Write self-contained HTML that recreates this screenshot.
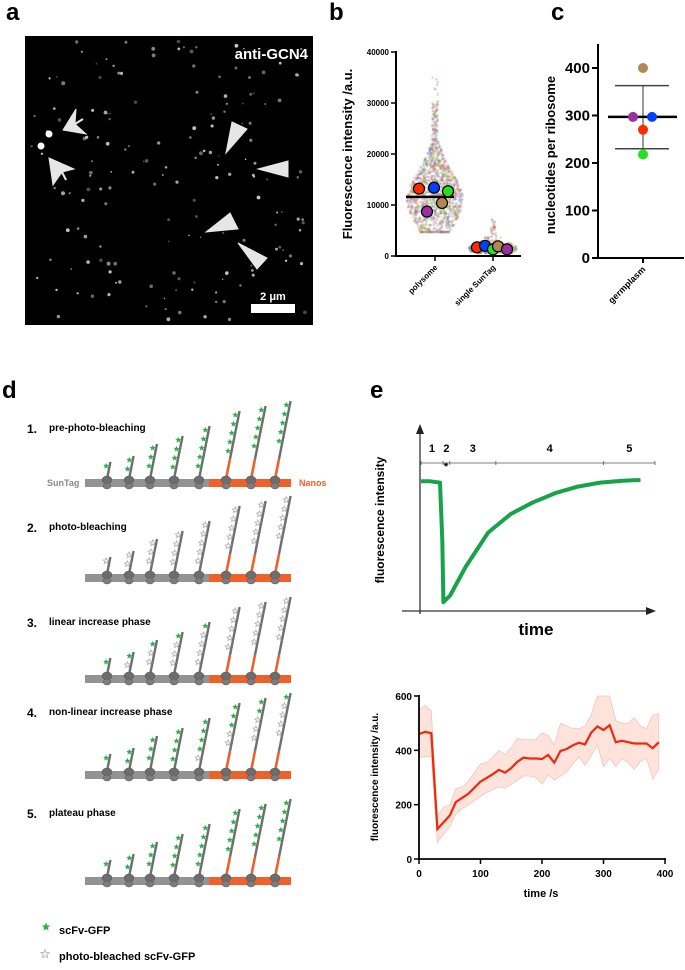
<!DOCTYPE html>
<html><head><meta charset="utf-8"><style>
html,body{margin:0;padding:0;background:#fff;}
body{width:685px;height:965px;overflow:hidden;font-family:"Liberation Sans",Arial,sans-serif;}
text{font-family:"Liberation Sans",Arial,sans-serif;}
</style></head><body>
<svg id="fig" width="685" height="965" viewBox="0 0 685 965" xmlns="http://www.w3.org/2000/svg">
<g font-weight="bold" font-size="24" fill="#000">
<text x="6" y="20">a</text>
<text x="329" y="20">b</text>
<text x="551" y="20">c</text>
<text x="2" y="398">d</text>
<text x="370" y="398">e</text>
</g>
<g id="pa">
<rect x="25" y="36" width="288" height="289" fill="#000"/>
<g id="dots"></g>
<text x="308" y="59" text-anchor="end" fill="#fff" font-size="15" font-weight="bold">anti-GCN4</text>
<rect x="251" y="304" width="44" height="9" fill="#fff"/>
<text x="273" y="300" text-anchor="middle" fill="#fff" font-size="11" font-weight="bold">2 μm</text>
<g fill="#e6e6e6" stroke="#e6e6e6">
<polygon points="63,130 76,109 75,124 86,134"/>
<line x1="75" y1="124" x2="83" y2="119" stroke-width="2"/>
<polygon points="49,158 53,185 62,172 74,169"/>
<line x1="62" y1="172" x2="66" y2="180" stroke-width="2"/>
<polygon points="226,153 232,122 247,129"/>
<polygon points="258,169 288,161 288,177"/>
<polygon points="206,232 230,213 238,229"/>
<polygon points="238,243 267,258 257,269"/>
</g>
</g>
<g id="pb"></g>
<g id="pc"></g>
<g id="pd"></g>
<g id="pe1"></g>
<g id="pe2"></g>
</svg>
<script>
const NS="http://www.w3.org/2000/svg";
function mk(parent,tag,attrs,txt){const e=document.createElementNS(NS,tag);for(const k in attrs)e.setAttribute(k,attrs[k]);if(txt!==undefined)e.textContent=txt;parent.appendChild(e);return e;}

// ---------- panel b data ----------
const bCategories=["polysome","single SunTag"];
const bMeans=[11600,1500];
const bRepColors=["#ff2a00","#0040ff","#22e022","#b08850","#9a30a0"];
const bPolysomeReps=[13200,13400,12700,10400,8700];
const bSingleReps=[1700,2000,1300,1900,1300];
const bYTicks=[0,10000,20000,30000,40000];

// ---------- panel c data ----------
const cCategories=["germplasm"];
const cValues=[400,297,297,270,218];
const cColors=["#b08850","#9a30a0","#0040ff","#ff2a00","#22e022"];
const cMean=297, cSdHigh=363, cSdLow=230;
const cYTicks=[0,100,200,300,400];

// ---------- panel e bottom data ----------
const eTimes=[0,10,20,30,40,50,60,70,80,90,100,110,120,130,140,150,160,170,180,190,200,210,220,230,240,250,260,270,280,290,300,310,320,330,340,350,360,370,380,390];
const eMean=[460,468,463,110,135,160,210,225,240,262,285,298,312,328,318,335,358,373,370,370,368,383,355,398,405,418,428,422,465,488,475,492,430,435,430,425,425,425,408,430];
const eUpper=[550,565,545,160,190,200,260,265,285,320,350,355,375,400,385,410,445,440,440,440,465,455,420,500,490,480,480,490,530,600,600,600,510,500,500,520,490,480,530,535];
const eLower=[375,375,380,60,90,120,165,185,200,215,230,245,255,265,260,275,290,305,305,300,275,310,290,305,320,350,375,345,380,420,340,370,340,370,355,330,360,370,295,330];
const eXTicks=[0,100,200,300,400];
const eYTicks=[0,200,400,600];

// ---------- panel e schematic ----------
const sTime=[0,0.04,0.085,0.095,0.1,0.13,0.2,0.3,0.4,0.5,0.6,0.7,0.8,0.9,0.98];
const sValue=[0.95,0.95,0.94,0.5,0.03,0.08,0.3,0.56,0.7,0.79,0.86,0.91,0.94,0.955,0.96];
const sPhaseBounds=[0,0.094,0.123,0.32,0.78,1.0];
const sPhaseLabels=["1","2","3","4","5"];

// ---------- panel d ----------
const dStalkHeights=[17,23,35,43,53,68,73,78];
const dRowLabels=["pre-photo-bleaching","photo-bleaching","linear increase phase","non-linear increase phase","plateau phase"];
const dRowStars=[
 [[1,0],[2,0],[3,0],[4,0],[5,0],[5,0],[5,0],[5,0]],
 [[0,1],[0,2],[0,3],[0,4],[0,5],[0,5],[0,5],[0,5]],
 [[1,0],[1,1],[1,2],[1,3],[1,4],[0,5],[0,5],[0,5]],
 [[1,0],[2,0],[3,0],[4,0],[4,1],[3,2],[2,3],[1,4]],
 [[1,0],[2,0],[3,0],[4,0],[5,0],[5,0],[5,0],[5,0]]
];

let seed=12345;function rnd(){seed=(seed*1103515245+12345)%2147483648;return seed/2147483648;}

// ---------- panel a dots ----------
(function(){const g=document.getElementById('dots');
for(let i=0;i<170;i++){const x=30+rnd()*278,y=40+rnd()*282;const r=0.7+rnd()*1.3;const c=Math.floor(70+rnd()*130);
const d=mk(g,'circle',{cx:x.toFixed(1),cy:y.toFixed(1),r:r.toFixed(1),fill:`rgb(${c},${c},${c})`});

}
const s1=mk(g,'circle',{cx:49,cy:134,r:3.5,fill:'#fff'});
const s2=mk(g,'circle',{cx:41,cy:146,r:3.5,fill:'#fff'});
})();

// ---------- panel b ----------
(function(){const g=document.getElementById('pb');
const y=v=>256-v*204/40000;const xs=[435,493];
mk(g,'line',{x1:396,y1:51,x2:396,y2:257,stroke:'#000','stroke-width':2});
mk(g,'line',{x1:395,y1:256,x2:521,y2:256,stroke:'#000','stroke-width':2});
bYTicks.forEach(t=>{mk(g,'line',{x1:391,x2:396,y1:y(t),y2:y(t),stroke:'#000','stroke-width':1.5});
const tl=mk(g,'text',{x:389,y:y(t)+3,'text-anchor':'end','font-size':8,'font-weight':'bold'},t);});
const yl=mk(g,'text',{x:352,y:154,'text-anchor':'middle','font-size':13,'font-weight':'bold',transform:'rotate(-90 352 154)'},'Fluorescence intensity /a.u.');

bCategories.forEach((c,i)=>{mk(g,'line',{x1:xs[i],x2:xs[i],y1:256,y2:261,stroke:'#000','stroke-width':1.5});
const t=mk(g,'text',{x:xs[i]+3,y:268,'text-anchor':'end','font-size':8,'font-weight':'bold',transform:`rotate(-45 ${xs[i]+3} 268)`},c);
});
const cols=['#e05050','#5070e0','#50c050','#c0a070','#b060c0','#d0c040'];
for(let i=0;i<1400;i++){let v=bMeans[0]+(rnd()+rnd()+rnd()-1.5)*9000;if(rnd()<0.18)v+=rnd()*16000;v=Math.max(4700,v);
const w=28*Math.exp(-Math.pow((v-11000)/8000,2));const x=xs[0]+(rnd()*2-1)*Math.max(3,w);
const p=mk(g,'circle',{cx:x.toFixed(1),cy:y(v).toFixed(1),r:1.3,fill:cols[i%6],'fill-opacity':0.3});
}
for(let i=0;i<350;i++){let v=bMeans[1]+(rnd()+rnd()-1)*1600;if(rnd()<0.08)v+=rnd()*5000;v=Math.max(600,v);
const w=24*Math.exp(-Math.pow((v-1500)/2000,2));const x=xs[1]+(rnd()*2-1)*Math.max(2,w);
const p=mk(g,'circle',{cx:x.toFixed(1),cy:y(v).toFixed(1),r:1.4,fill:cols[i%6],'fill-opacity':0.4});
}
const ml=mk(g,'line',{x1:xs[0]-29,x2:xs[0]+19,y1:y(bMeans[0]),y2:y(bMeans[0]),stroke:'#000','stroke-width':2.5});
const ml2=mk(g,'line',{x1:xs[1]-20,x2:xs[1]+20,y1:y(bMeans[1]),y2:y(bMeans[1]),stroke:'#000','stroke-width':2.5});
const offP=[-16,-1,13,7,-8],offS=[-16,-8,0,5,14];
bPolysomeReps.forEach((v,i)=>{const c=mk(g,'circle',{cx:xs[0]+offP[i],cy:y(v),r:5.5,fill:bRepColors[i],stroke:'#000','stroke-width':1.2});});
bSingleReps.forEach((v,i)=>{const c=mk(g,'circle',{cx:xs[1]+offS[i],cy:y(v),r:5.5,fill:bRepColors[i],stroke:'#000','stroke-width':1.2});});
})();

// ---------- panel c ----------
(function(){const g=document.getElementById('pc');const y=v=>258-v*190/400;const x0=643;
mk(g,'line',{x1:598,y1:44,x2:598,y2:259,stroke:'#000','stroke-width':2});
mk(g,'line',{x1:597,y1:258,x2:684,y2:258,stroke:'#000','stroke-width':2});
cYTicks.forEach(t=>{mk(g,'line',{x1:592,x2:598,y1:y(t),y2:y(t),stroke:'#000','stroke-width':2});
const tl=mk(g,'text',{x:590,y:y(t)+5,'text-anchor':'end','font-size':15,'font-weight':'bold'},t);});
const yl=mk(g,'text',{x:555,y:155,'text-anchor':'middle','font-size':13,'font-weight':'bold',transform:'rotate(-90 555 155)'},'nucleotides per ribosome');
mk(g,'line',{x1:x0,x2:x0,y1:258,y2:263,stroke:'#000','stroke-width':2});
const t=mk(g,'text',{x:x0+3,y:270,'text-anchor':'end','font-size':9,'font-weight':'bold',transform:`rotate(-45 ${x0+3} 270)`},cCategories[0]);
const eb=mk(g,'line',{x1:x0,x2:x0,y1:y(cSdHigh),y2:y(cSdLow),stroke:'#777','stroke-width':1.5});
[cSdHigh,cSdLow].forEach(v=>{const l=mk(g,'line',{x1:x0-28,x2:x0+26,y1:y(v),y2:y(v),stroke:'#444','stroke-width':1.5});});
const ml=mk(g,'line',{x1:x0-35,x2:x0+34,y1:y(cMean),y2:y(cMean),stroke:'#000','stroke-width':2.5});
const off=[0,-10,9,0,0];
cValues.forEach((v,i)=>{const c=mk(g,'circle',{cx:x0+off[i],cy:y(v),r:5,fill:cColors[i]});});
})();

// ---------- panel d ----------
function star(g,cx,cy,r,fill,stroke){let pts=[];for(let k=0;k<10;k++){const a=-Math.PI/2+k*Math.PI/5;const rr=k%2?r*0.45:r;pts.push((cx+rr*Math.cos(a)).toFixed(1)+','+(cy+rr*Math.sin(a)).toFixed(1));}
return mk(g,'polygon',{points:pts.join(' '),fill:fill,stroke:stroke||'none','stroke-width':0.7});}
(function(){const g=document.getElementById('pd');
const barYs=[483,578,679,775,881],labelYs=[433,532,627,717,818];
const ribX=[107,129,150,174,199,226,251,275];
barYs.forEach((by,r)=>{
const lb=mk(g,'text',{x:27,y:labelYs[r],'font-size':12,'font-weight':'bold'},(r+1)+'.');
const lt=mk(g,'text',{x:49,y:labelYs[r]-2,'font-size':10,'font-weight':'bold'},dRowLabels[r]);
const b1=mk(g,'rect',{x:85,y:by-4,width:124,height:8,fill:'#939393'});
const b2=mk(g,'rect',{x:209,y:by-4,width:82,height:8,fill:'#f0602a'});
ribX.forEach((rx,i)=>{const h=dStalkHeights[i];const tx=rx+h*0.2,ty=by-4-h;
const oh=i>=5?20:0;
const st=mk(g,'line',{x1:rx+oh*0.2,y1:by-4-oh,x2:tx,y2:ty,stroke:'#6e6e6e','stroke-width':2.4});
if(i>=5){const o=mk(g,'line',{x1:rx,y1:by-4,x2:rx+oh*0.2,y2:by-4-oh,stroke:'#f0602a','stroke-width':2.6});}
const rb=mk(g,'ellipse',{cx:rx,cy:by-3,rx:5,ry:4,fill:'#6d6d6d',stroke:'#555','stroke-width':0.5});
mk(g,'ellipse',{cx:rx,cy:by+3,rx:4,ry:3,fill:'#7d7d7d',stroke:'#555','stroke-width':0.5});
const [gn,bl]=dRowStars[r][i];for(let k=0;k<gn+bl;k++){const d=4+k*9;const sx=tx-(d*0.2)-3.5,sy=ty+d;
const s=k<gn?star(g,sx,sy,3.2,'#2fb04a'):star(g,sx,sy,3.2,'#f4f4f4','#aaa');

}
});});
const su=mk(g,'text',{x:47,y:486,'font-size':9,'font-weight':'bold',fill:'#8a8a8a'},'SunTag');
const na=mk(g,'text',{x:299,y:486,'font-size':9,'font-weight':'bold',fill:'#f0602a'},'Nanos');
const s1=star(g,46,927,4.5,'#2fb04a');
const s2=star(g,45,954,4.5,'#f4f4f4','#aaa');
const l1=mk(g,'text',{x:59,y:934,'font-size':11,'font-weight':'bold'},'scFv-GFP');
const l2=mk(g,'text',{x:59,y:960,'font-size':11,'font-weight':'bold'},'photo-bleached scFv-GFP');
})();

// ---------- panel e top ----------
(function(){const g=document.getElementById('pe1');const X=t=>421+t*(645-421),Y=v=>606-v*(606-480)/0.96;
mk(g,'line',{x1:420,y1:614,x2:420,y2:432,stroke:'#333','stroke-width':1.3});
mk(g,'polygon',{points:'420,424 416,434 424,434',fill:'#222'});
mk(g,'line',{x1:402,y1:611,x2:648,y2:611,stroke:'#333','stroke-width':1.3});
mk(g,'polygon',{points:'656,611 646,607 646,615',fill:'#222'});
const yl=mk(g,'text',{x:384,y:520,'text-anchor':'middle','font-size':12,'font-weight':'bold',transform:'rotate(-90 384 520)'},'fluorescence intensity');
const xl=mk(g,'text',{x:536,y:635,'text-anchor':'middle','font-size':17,'font-weight':'bold'},'time');
const PX=t=>421+t*(655-421);
mk(g,'line',{x1:PX(0),x2:PX(1),y1:463,y2:463,stroke:'#555','stroke-width':0.8});
sPhaseBounds.forEach(b=>mk(g,'line',{x1:PX(b),x2:PX(b),y1:461,y2:465,stroke:'#555','stroke-width':0.8}));
sPhaseLabels.forEach((l,i)=>{const t=mk(g,'text',{x:(PX(sPhaseBounds[i])+PX(sPhaseBounds[i+1]))/2,y:452,'text-anchor':'middle','font-size':11,'font-weight':'bold'},l);});
mk(g,'text',{x:PX(sPhaseBounds[1])+3,y:470,'text-anchor':'middle','font-size':11,'font-weight':'bold'},'*');
const d=sTime.map((t,i)=>(i?'L':'M')+X(t).toFixed(1)+','+Y(sValue[i]).toFixed(1)).join(' ');
const p=mk(g,'path',{d:d,fill:'none',stroke:'#17a34a','stroke-width':4,'stroke-linejoin':'round'});
})();

// ---------- panel e bottom ----------
(function(){const g=document.getElementById('pe2');const X=t=>419+t*246/400,Y=v=>859-v*163/600;
const up=eTimes.map((t,i)=>X(t).toFixed(1)+','+Y(Math.min(eUpper[i],600)).toFixed(1));
const lo=eTimes.map((t,i)=>X(t).toFixed(1)+','+Y(eLower[i]).toFixed(1)).reverse();
const band=mk(g,'polygon',{points:up.concat(lo).join(' '),fill:'#fde3dc',stroke:'#f4b8a8','stroke-width':0.6});
const line=mk(g,'polyline',{points:eTimes.map((t,i)=>X(t).toFixed(1)+','+Y(eMean[i]).toFixed(1)).join(' '),fill:'none',stroke:'#ee2a0a','stroke-width':2.2});
mk(g,'line',{x1:419,y1:695,x2:419,y2:860,stroke:'#000','stroke-width':1.8});
mk(g,'line',{x1:418,y1:859,x2:666,y2:859,stroke:'#000','stroke-width':1.8});
eYTicks.forEach(t=>{mk(g,'line',{x1:414,x2:419,y1:Y(t),y2:Y(t),stroke:'#000','stroke-width':1.5});
const tl=mk(g,'text',{x:412,y:Y(t)+4,'text-anchor':'end','font-size':10,'font-weight':'bold'},t);});
eXTicks.forEach(t=>{mk(g,'line',{x1:X(t),x2:X(t),y1:859,y2:864,stroke:'#000','stroke-width':1.5});
const tl=mk(g,'text',{x:X(t),y:877,'text-anchor':'middle','font-size':10,'font-weight':'bold'},t);});
const yl=mk(g,'text',{x:378,y:777,'text-anchor':'middle','font-size':10,'font-weight':'bold',transform:'rotate(-90 378 777)'},'fluorescence intensity /a.u.');
const xl=mk(g,'text',{x:541,y:897,'text-anchor':'middle','font-size':11,'font-weight':'bold'},'time /s');
})();
</script>
</body></html>
